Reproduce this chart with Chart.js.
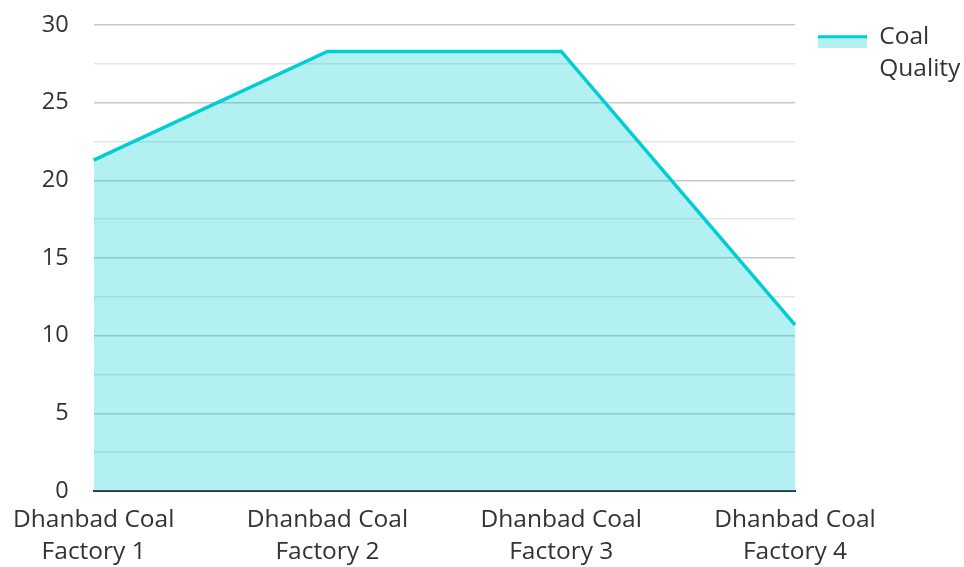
<!DOCTYPE html>
<html>
<head>
<meta charset="utf-8">
<script src="https://cdn.jsdelivr.net/npm/chart.js@4.4.1/dist/chart.umd.min.js"></script>
<style>
  html, body { margin: 0; padding: 0; background: #fff; }
  #wrap { width: 964px; height: 567px; }
</style>
</head>
<body>
<div id="wrap"><canvas id="chart" width="964" height="567"></canvas></div>
<script>
// chart data
const categories = [
  ['Dhanbad Coal', 'Factory 1'],
  ['Dhanbad Coal', 'Factory 2'],
  ['Dhanbad Coal', 'Factory 3'],
  ['Dhanbad Coal', 'Factory 4']
];
const coalQuality = [21.3, 28.3, 28.3, 10.7];
const seriesLabel = ['Coal', 'Quality'];
const yTicks = [0, 5, 10, 15, 20, 25, 30];

const lineColor = '#00CED1';
const fillColor = 'rgba(0, 206, 209, 0.3)';
const textColor = '#333333';

// legend swatch: thick line on top, light fill below (small blank margin on the left)
function makeSwatch() {
  const c = document.createElement('canvas');
  c.width = 57;
  c.height = 22;
  const g = c.getContext('2d');
  g.fillStyle = fillColor;
  g.fillRect(8, 9, 49, 13);
  g.fillStyle = lineColor;
  g.fillRect(8, 9, 49, 3);
  return c;
}
const swatch = makeSwatch();

// keep the legend column a fixed width
const legendWidth = {
  id: 'legendWidth',
  afterInit(chart) {
    const legend = chart.legend;
    const fit = legend.fit;
    legend.fit = function () {
      fit.call(this);
      this.width = 169;
    };
  }
};

Chart.defaults.font.family = '"Open Sans", "Noto Sans", sans-serif';
Chart.defaults.font.size = 22;
Chart.defaults.color = textColor;

new Chart(document.getElementById('chart'), {
  type: 'line',
  data: {
    labels: categories,
    datasets: [{
      label: seriesLabel,
      data: coalQuality,
      borderColor: lineColor,
      backgroundColor: fillColor,
      borderWidth: 3.5,
      fill: 'origin',
      tension: 0,
      pointRadius: 0,
      pointHoverRadius: 0
    }]
  },
  options: {
    responsive: false,
    animation: false,
    layout: { padding: { top: 10, left: 0, right: 0, bottom: 0 } },
    plugins: {
      tooltip: { enabled: false },
      legend: {
        position: 'right',
        align: 'start',
        labels: {
          usePointStyle: true,
          pointStyleWidth: 57,
          padding: 15,
          font: { size: 24.5, lineHeight: 1.3 },
          generateLabels(chart) {
            const ds = chart.data.datasets[0];
            return [{
              text: ds.label,
              pointStyle: swatch,
              fillStyle: fillColor,
              strokeStyle: lineColor,
              lineWidth: 0,
              fontColor: textColor,
              datasetIndex: 0,
              hidden: false
            }];
          }
        }
      }
    },
    scales: {
      x: {
        offset: false,
        grid: { display: false, drawTicks: false },
        border: { display: true, color: '#333333', width: 2 },
        ticks: {
          padding: 13,
          maxRotation: 0,
          autoSkip: false,
          font: { size: 24.5, lineHeight: 1.3 }
        },
        afterFit(scale) { scale.height = 76; }
      },
      y: {
        min: 0,
        max: 30,
        grid: {
          drawTicks: false,
          lineWidth: 1.5,
          color: ctx => (yTicks.includes(ctx.tick.value) ? '#c8c8c8' : '#e6e6e6')
        },
        border: { display: false },
        ticks: {
          stepSize: 2.5,
          padding: 25,
          font: { size: 23.5 },
          callback: v => (yTicks.includes(v) ? v : '')
        },
        afterFit(scale) {
          scale.width = 91;
          // plot top sits lower than the legend
          scale.paddingTop = 25;
          scale.paddingBottom = 0;
        }
      }
    }
  },
  plugins: [legendWidth]
});
</script>
</body>
</html>
